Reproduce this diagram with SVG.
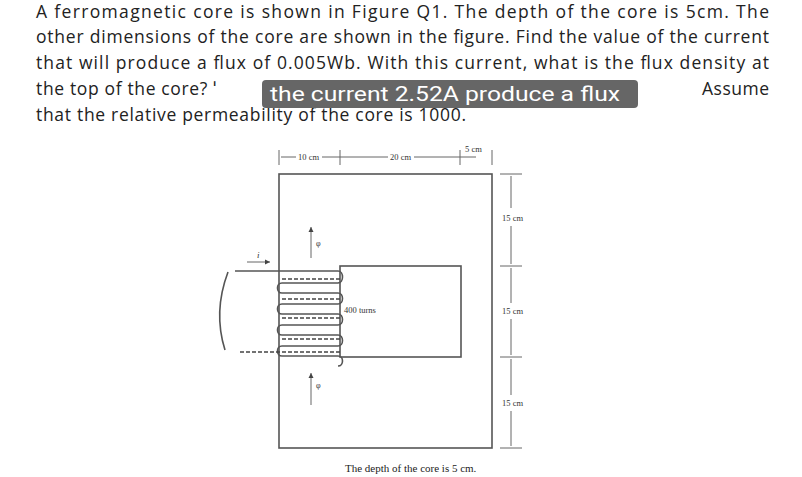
<svg xmlns="http://www.w3.org/2000/svg" width="802" height="477" viewBox="0 0 802 477">
<style>
.q{font-family:"Open Sans","Noto Sans",sans-serif;font-size:17.5px;fill:#222}
.f{font-family:"Liberation Serif",serif;font-size:8.5px;fill:#333}
.ln{stroke:#555;stroke-width:1.6;fill:none}
.thin{stroke:#666;stroke-width:1;fill:none}
.dash{stroke:#444;stroke-width:1.6;stroke-dasharray:4 2;fill:none}
</style>
<defs>
<marker id="ah" markerWidth="6" markerHeight="6" refX="5" refY="3" orient="auto"><path d="M0,0.5 L5,3 L0,5.5z" fill="#444"/></marker>
</defs>
<rect width="802" height="477" fill="#fff"/>
<g id="question">
<text class="q" x="36" y="18" textLength="733" lengthAdjust="spacing">A ferromagnetic core is shown in Figure Q1. The depth of the core is 5cm. The</text>
<text class="q" x="36" y="43" textLength="733" lengthAdjust="spacing">other dimensions of the core are shown in the figure. Find the value of the current</text>
<text class="q" x="36" y="69" textLength="733" lengthAdjust="spacing">that will produce a flux of 0.005Wb. With this current, what is the flux density at</text>
<text class="q" x="36" y="95" textLength="180" lengthAdjust="spacing">the top of the core? ˈ</text>
<text class="q" x="702" y="95" textLength="67" lengthAdjust="spacing">Assume</text>
<text class="q" x="36" y="121" textLength="430" lengthAdjust="spacing">that the relative permeability of the core is 1000.</text>
</g>
<g id="overlay">
<rect x="262" y="80" width="376" height="28" rx="4" fill="#666"/>
<text x="270" y="101" font-family="Roboto,'Noto Sans',sans-serif" font-size="20" fill="#fff" textLength="350" lengthAdjust="spacingAndGlyphs">the current 2.52A produce a flux</text>
</g>
<g id="core">
<rect class="ln" x="279" y="174" width="213" height="274"/>
<rect class="ln" x="340" y="266" width="121" height="91"/>
</g>
<g id="dimensions">
<path class="thin" d="M279,150V165M340,150V165M460,150V165M492,150V165"/>
<path class="thin" d="M281,157H296M322,157H340M340,157H388M414,157H460M476,157H460"/>
<text class="f" x="298" y="160">10 cm</text>
<text class="f" x="390" y="160">20 cm</text>
<text class="f" x="465" y="152">5 cm</text>
<path class="thin" d="M500,174H522M500,266H522M500,357H522M500,448H522"/>
<path class="thin" d="M511,176V208M511,226V264M511,268V303M511,319V355M511,359V395M511,411V446"/>
<text class="f" x="502" y="221">15 cm</text>
<text class="f" x="502" y="314">15 cm</text>
<text class="f" x="502" y="406">15 cm</text>
<text x="345" y="472" font-family="'Liberation Serif',serif" font-size="11" fill="#222">The depth of the core is 5 cm.</text>
</g>
<g id="coil">
<path class="ln" d="M235,271H338"/>
<path class="ln" d="M338,271c6,0 6,12 0,12H282c-6,0 -6,10 0,10H338c6,0 6,11 0,11H282c-6,0 -6,10 0,10H338c6,0 6,11 0,11H282c-6,0 -6,10 0,10H338c6,0 6,11 0,11H282c-6,0 -6,10 0,10H338c6,0 6,10 0,10"/>
<path class="dash" d="M282,279H340M282,299H340M282,318H340M282,339H340M240,352H340"/>
<path class="ln" d="M228,272Q213,312 225,350"/>
<text class="f" x="344" y="313">400 turns</text>
</g>
<g id="connectors">
<path class="thin" d="M247,262H270" marker-end="url(#ah)"/>
<text x="257" y="258" font-family="'Liberation Serif',serif" font-style="italic" font-size="9" fill="#333">i</text>
<path class="thin" d="M311,258V227" marker-end="url(#ah)"/>
<text x="316" y="246" font-family="'Liberation Serif',serif" font-size="8" fill="#333">φ</text>
<path class="thin" d="M311,405V373" marker-end="url(#ah)"/>
<text x="316" y="388" font-family="'Liberation Serif',serif" font-size="8" fill="#333">φ</text>
</g>
</svg>
